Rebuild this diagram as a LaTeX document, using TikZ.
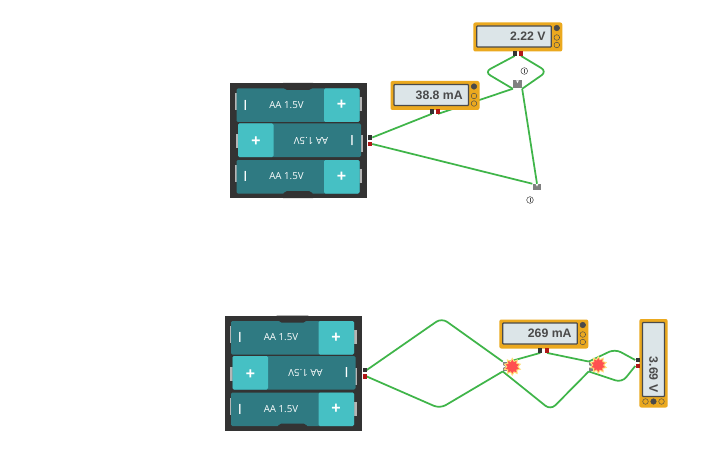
\documentclass[tikz,border=0pt]{standalone}
\usepackage{fontspec}
\setmainfont{Liberation Sans}
\newfontfamily\cellfont{Open Sans}
\usetikzlibrary{shapes.geometric,backgrounds}
\definecolor{wiregreen}{HTML}{3FB549}
\definecolor{holder}{HTML}{333333}
\definecolor{celldark}{HTML}{2F7A82}
\definecolor{cellend}{HTML}{46C0C4}
\definecolor{tabgrey}{HTML}{B5B5B5}
\definecolor{meterbody}{HTML}{EBA91F}
\definecolor{meterglass}{HTML}{DCE5E8}
\definecolor{meterink}{HTML}{4A4A4A}
\definecolor{probered}{HTML}{B01818}
\definecolor{sparkred}{HTML}{FF5050}
\definecolor{sparkrim}{HTML}{FFE27A}
\tikzset{
  wire/.style={draw=wiregreen,line width=1.3pt,rounded corners=5pt},
  glass/.style={draw=meterink,line width=0.9pt,fill=meterglass,rounded corners=0.5pt},
  lead/.style={shape=rectangle,inner sep=0pt,minimum width=3pt,minimum height=3.2pt},
  knob/.style={shape=circle,draw=meterink,line width=0.35pt,inner sep=0pt,minimum size=4.2pt},
  readout/.style={inner sep=0pt,font=\bfseries\fontsize{9.2}{11}\selectfont,text=meterink},
  clipper/.style={shape=rectangle,fill=gray,inner sep=0pt,minimum width=6.6pt,minimum height=#1,
    path picture={\fill[white] (path picture bounding box.north) ++(-1pt,0pt) -- ++(2pt,0pt) -- ++(-1pt,-2pt) -- cycle;}},
  sideclip/.style={shape=rectangle,fill=gray,inner sep=0pt,minimum width=4.5pt,minimum height=7pt,
    path picture={\fill[white] (path picture bounding box.west) ++(0pt,1pt) -- ++(0pt,-2pt) -- ++(2pt,1pt) -- cycle;}},
  flash/.style={shape=star,star points=10,star point ratio=1.5,fill=sparkred,draw=sparkrim,
    line width=0.7pt,inner sep=0pt,minimum size=12.5pt},
  legend/.style={shape=circle,draw=black!70,line width=0.4pt,inner sep=0pt,minimum size=5pt,
    path picture={\draw[black!70,line width=0.4pt] (path picture bounding box.center) ++(0pt,1.3pt) -- ++(0pt,-2.6pt);}},
  celltext/.style={text=white,transform shape},
  % one battery, origin at its top left
  pics/cell/.style={code={
    \fill[tabgrey] (-1.5,5) rectangle (1,22);
    \fill[tabgrey] (122,9) rectangle (125.5,23);
    \fill[celldark,rounded corners=1pt] (0,0) rectangle (123,33.5);
    \fill[cellend,rounded corners=1pt] (87.5,0) rectangle (123,33.5);
    \node[celltext,font=\cellfont\fontsize{7.3}{8}\selectfont] at (50,16.5) {AA 1.5V};
    \node[celltext,font=\fontsize{11}{12}\selectfont] at (9,16.5) {I};
    \node[celltext,font=\bfseries\fontsize{12}{12}\selectfont] at (105,16.5) {+};
  }},
  pics/pack/.style={code={
    \fill[holder] (0,0) rectangle (137,115);
    \pic at (6.5,5.5) {cell};
    \pic[rotate=180] at (131,74) {cell};
    \pic at (6.5,77) {cell};
    \fill[holder,rounded corners=1.5pt] (51,0) -- (55,7) -- (81,7) -- (85,0) -- cycle;
    \fill[holder,rounded corners=1.5pt] (51,115) -- (55,108) -- (81,108) -- (85,115) -- cycle;
    \node[lead,fill=black!80] (-blk) at (140,54.5) {};
    \node[lead,fill=probered] (-red) at (140,61) {};
  }},
  pics/meter/.style={code={
    \fill[meterbody,rounded corners=1.5pt] (0,0) rectangle (89,29);
    \draw[glass] (3.5,3.5) rectangle (78,24.5);
    \node[readout,anchor=east] at (72.5,14) {#1};
    \node[knob,fill=meterink] at (83.5,5.5) {};
    \node[knob] at (83.5,15) {};
    \node[knob] at (83.5,22.5) {};
  }},
}
\begin{document}
\begin{tikzpicture}[x=0.75pt,y=-0.75pt]
  \useasboundingbox (0,0) rectangle (725,453);

  % upper circuit
  \pic (pa) at (230,83) {pack};
  \pic at (473.3,22.5) {meter={2.22 V}};
  \pic at (390.5,81) {meter={38.8 mA}};
  \node[lead,fill=black!80] (va) at (514.7,53.5) {};
  \node[lead,fill=probered] (vb) at (521,53.5) {};
  \node[lead,fill=black!80] (ia) at (431.7,111.5) {};
  \node[lead,fill=probered] (ib) at (438,111.5) {};
  \node[clipper=6pt] (sa) at (517.5,84.5) {};
  \node[clipper=4.5pt] (sb) at (537,187) {};
  \node[legend] at (524.3,71) {};
  \node[legend] at (530,200) {};

  % lower circuit
  \pic (pb) at (224.5,315.5) {pack};
  \pic at (499.3,319.5) {meter={269 mA}};
  \node[lead,fill=black!80] (ic) at (540.3,350.5) {};
  \node[lead,fill=probered] (id) at (547,350.5) {};
  \fill[meterbody,rounded corners=1.5pt] (639.3,319) rectangle (667.7,407.5);
  \draw[glass] (642.5,322.5) rectangle (664.5,396.5);
  \node[readout,rotate=-90,anchor=east] at (653.5,392.5) {3.69 V};
  \node[knob] at (645.5,401.5) {};
  \node[knob,fill=meterink] at (653.5,401.5) {};
  \node[knob] at (661.5,401.5) {};
  \node[lead,fill=black!80] (vc) at (637.5,360) {};
  \node[lead,fill=probered] (vd) at (637.5,366) {};
  \node[sideclip] (sc) at (506,366.5) {};
  \node[sideclip] (sd) at (592,366.5) {};
  \node[flash] at (512.3,366.7) {};
  \node[flash] at (598.3,365) {};

  \begin{scope}[on background layer]
    \fill[white] (0,0) rectangle (725,453);
    \draw[wire] (pa-blk.east) -- (ia.south);
    \draw[wire] (ib.south) -- (sa.south west);
    \draw[wire] (pa-red.east) -- (sb.north west);
    \draw[wire] (sb.north) -- (sa.south east);
    \draw[wire] (va.south) -- (484.5,72) -- (sa.south west);
    \draw[wire] (vb.south) -- (547,71.5) -- (sa.south east);

    \draw[wire] (pb-blk.east) -- (441.7,318) -- (sc.north west);
    \draw[wire] (pb-red.east) -- (440,408.5) -- (sc.south west);
    \draw[wire] (sc.south west) -- (550.7,410) -- (sd.south west);
    \draw[wire] (ic.south) -- (sc.north east);
    \draw[wire] (id.south) -- (sd.north west);
    \draw[wire] (sd.north west) -- (615,349) -- (vc.west);
    \draw[wire] (sd.south west) -- (622,382.5) -- (vd.west);
  \end{scope}
\end{tikzpicture}
\end{document}
